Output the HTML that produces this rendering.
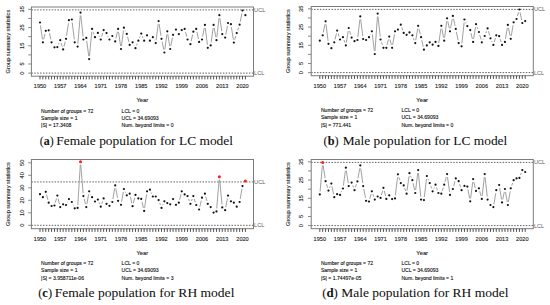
<!DOCTYPE html>
<html><head><meta charset="utf-8"><style>
html,body{margin:0;padding:0;background:#fff;width:550px;height:305px;overflow:hidden}
svg{display:block}
</style></head><body>
<svg width="550" height="305" viewBox="0 0 550 305" font-family='"Liberation Sans", sans-serif'>
<rect width="550" height="305" fill="#fff"/>
<line x1="31.4" y1="9.89" x2="253.5" y2="9.89" stroke="#606060" stroke-width="1.0" stroke-dasharray="1.5 1.4"/>
<line x1="31.4" y1="73.1" x2="253.5" y2="73.1" stroke="#606060" stroke-width="1.0" stroke-dasharray="1.5 1.4"/>
<path d="M40.43 25.47L42.46 39.33M43.62 39.39L45.05 33.71M49.38 33.22L50.87 39.38M58.52 44.33L59.09 42.97M61.15 43.06L62.24 46.54M63.93 46.51L65.25 41.69M66.5 35.84L68.47 23.16M72.2 22.48L74.34 39.32M77.86 43.61L80.25 15.59M80.82 15.58L83.07 36.52M86.69 40.87L88.78 56.13M89.47 56.11L91.79 31.89M93.06 31.73L93.98 34.37M99.06 35.65L99.55 36.75M101.64 36.63L102.76 32.97M107.77 35.83L108.2 36.77M113.74 38.64L113.8 38.76M115.89 38.48L117.43 31.82M118.54 31.87L120.58 46.03M121.41 46.03L123.49 30.67M125.17 30.42L125.52 31.18M127.55 36.8L128.92 42M133.9 44.99L134.15 45.51M136.55 45.4L137.28 43.5M139.49 37.92L140.12 36.38M142.39 36.38L143.02 37.92M145.56 38.06L145.62 37.94M148.46 37.94L148.52 38.06M154.15 39.89L154.4 40.41M156.11 40.13L158.22 24.07M159.1 24.06L161.02 35.84M162.13 41.74L163.78 49.56M164.8 49.53L166.89 34.27M167.78 34.26L169.7 46.04M170.78 46.06L172.48 37.74M185.44 31.79L186.75 36.61M191.11 41.28L192.65 34.62M196.87 31.83L198.46 38.97M202.59 36.56L204.32 27.84M205.28 27.88L207.42 44.82M211.11 42.43L213.16 27.87M214.14 27.85L215.92 37.25M216.82 37.22L219.02 18.18M219.82 18.17L221.81 31.13M225.74 34.66L227.46 25.94M231.4 27.16L233.37 39.64M234.7 39.73L235.85 35.97M237.7 30.26L238.64 27.54M240.22 21.76L241.91 13.44" stroke="#9c9c9c" stroke-width="0.95" fill="none"/>
<circle cx="40" cy="22.5" r="1.1" fill="#111"/>
<circle cx="42.89" cy="42.3" r="1.1" fill="#111"/>
<circle cx="45.79" cy="30.8" r="1.1" fill="#111"/>
<circle cx="48.68" cy="30.3" r="1.1" fill="#111"/>
<circle cx="51.57" cy="42.3" r="1.1" fill="#111"/>
<circle cx="54.47" cy="47.3" r="1.1" fill="#111"/>
<circle cx="57.36" cy="47.1" r="1.1" fill="#111"/>
<circle cx="60.25" cy="40.2" r="1.1" fill="#111"/>
<circle cx="63.14" cy="49.4" r="1.1" fill="#111"/>
<circle cx="66.04" cy="38.8" r="1.1" fill="#111"/>
<circle cx="68.93" cy="20.2" r="1.1" fill="#111"/>
<circle cx="71.82" cy="19.5" r="1.1" fill="#111"/>
<circle cx="74.72" cy="42.3" r="1.1" fill="#111"/>
<circle cx="77.61" cy="46.6" r="1.1" fill="#111"/>
<circle cx="80.5" cy="12.6" r="1.1" fill="#111"/>
<circle cx="83.39" cy="39.5" r="1.1" fill="#111"/>
<circle cx="86.29" cy="37.9" r="1.1" fill="#111"/>
<circle cx="89.18" cy="59.1" r="1.1" fill="#111"/>
<circle cx="92.07" cy="28.9" r="1.1" fill="#111"/>
<circle cx="94.97" cy="37.2" r="1.1" fill="#111"/>
<circle cx="97.86" cy="32.9" r="1.1" fill="#111"/>
<circle cx="100.75" cy="39.5" r="1.1" fill="#111"/>
<circle cx="103.65" cy="30.1" r="1.1" fill="#111"/>
<circle cx="106.54" cy="33.1" r="1.1" fill="#111"/>
<circle cx="109.43" cy="39.5" r="1.1" fill="#111"/>
<circle cx="112.32" cy="36" r="1.1" fill="#111"/>
<circle cx="115.22" cy="41.4" r="1.1" fill="#111"/>
<circle cx="118.11" cy="28.9" r="1.1" fill="#111"/>
<circle cx="121" cy="49" r="1.1" fill="#111"/>
<circle cx="123.9" cy="27.7" r="1.1" fill="#111"/>
<circle cx="126.79" cy="33.9" r="1.1" fill="#111"/>
<circle cx="129.68" cy="44.9" r="1.1" fill="#111"/>
<circle cx="132.58" cy="42.3" r="1.1" fill="#111"/>
<circle cx="135.47" cy="48.2" r="1.1" fill="#111"/>
<circle cx="138.36" cy="40.7" r="1.1" fill="#111"/>
<circle cx="141.25" cy="33.6" r="1.1" fill="#111"/>
<circle cx="144.15" cy="40.7" r="1.1" fill="#111"/>
<circle cx="147.04" cy="35.3" r="1.1" fill="#111"/>
<circle cx="149.93" cy="40.7" r="1.1" fill="#111"/>
<circle cx="152.83" cy="37.2" r="1.1" fill="#111"/>
<circle cx="155.72" cy="43.1" r="1.1" fill="#111"/>
<circle cx="158.61" cy="21.1" r="1.1" fill="#111"/>
<circle cx="161.51" cy="38.8" r="1.1" fill="#111"/>
<circle cx="164.4" cy="52.5" r="1.1" fill="#111"/>
<circle cx="167.29" cy="31.3" r="1.1" fill="#111"/>
<circle cx="170.19" cy="49" r="1.1" fill="#111"/>
<circle cx="173.08" cy="34.8" r="1.1" fill="#111"/>
<circle cx="175.97" cy="29.6" r="1.1" fill="#111"/>
<circle cx="178.86" cy="34.1" r="1.1" fill="#111"/>
<circle cx="181.76" cy="30.1" r="1.1" fill="#111"/>
<circle cx="184.65" cy="28.9" r="1.1" fill="#111"/>
<circle cx="187.54" cy="39.5" r="1.1" fill="#111"/>
<circle cx="190.44" cy="44.2" r="1.1" fill="#111"/>
<circle cx="193.33" cy="31.7" r="1.1" fill="#111"/>
<circle cx="196.22" cy="28.9" r="1.1" fill="#111"/>
<circle cx="199.11" cy="41.9" r="1.1" fill="#111"/>
<circle cx="202.01" cy="39.5" r="1.1" fill="#111"/>
<circle cx="204.9" cy="24.9" r="1.1" fill="#111"/>
<circle cx="207.79" cy="47.8" r="1.1" fill="#111"/>
<circle cx="210.69" cy="45.4" r="1.1" fill="#111"/>
<circle cx="213.58" cy="24.9" r="1.1" fill="#111"/>
<circle cx="216.47" cy="40.2" r="1.1" fill="#111"/>
<circle cx="219.37" cy="15.2" r="1.1" fill="#111"/>
<circle cx="222.26" cy="34.1" r="1.1" fill="#111"/>
<circle cx="225.15" cy="37.6" r="1.1" fill="#111"/>
<circle cx="228.04" cy="23" r="1.1" fill="#111"/>
<circle cx="230.94" cy="24.2" r="1.1" fill="#111"/>
<circle cx="233.83" cy="42.6" r="1.1" fill="#111"/>
<circle cx="236.72" cy="33.1" r="1.1" fill="#111"/>
<circle cx="239.62" cy="24.7" r="1.1" fill="#111"/>
<circle cx="242.51" cy="10.5" r="1.1" fill="#111"/>
<circle cx="245.4" cy="15.2" r="1.1" fill="#111"/>
<rect x="31.4" y="7" width="222.1" height="69.2" fill="none" stroke="#7c7c7c" stroke-width="1"/>
<line x1="28.2" y1="73.1" x2="31.4" y2="73.1" stroke="#7c7c7c" stroke-width="0.9"/>
<line x1="28.2" y1="63.99" x2="31.4" y2="63.99" stroke="#7c7c7c" stroke-width="0.9"/>
<line x1="28.2" y1="54.88" x2="31.4" y2="54.88" stroke="#7c7c7c" stroke-width="0.9"/>
<line x1="28.2" y1="45.77" x2="31.4" y2="45.77" stroke="#7c7c7c" stroke-width="0.9"/>
<line x1="28.2" y1="36.66" x2="31.4" y2="36.66" stroke="#7c7c7c" stroke-width="0.9"/>
<line x1="28.2" y1="27.55" x2="31.4" y2="27.55" stroke="#7c7c7c" stroke-width="0.9"/>
<line x1="28.2" y1="18.44" x2="31.4" y2="18.44" stroke="#7c7c7c" stroke-width="0.9"/>
<line x1="28.2" y1="9.33" x2="31.4" y2="9.33" stroke="#7c7c7c" stroke-width="0.9"/>
<text x="21.6" y="73.1" transform="rotate(-90 21.6 73.1)" text-anchor="middle" dominant-baseline="central" font-size="5.6" fill="#222" stroke="#222" stroke-width="0.1">0</text>
<text x="21.6" y="63.99" transform="rotate(-90 21.6 63.99)" text-anchor="middle" dominant-baseline="central" font-size="5.6" fill="#222" stroke="#222" stroke-width="0.1">5</text>
<text x="21.6" y="45.77" transform="rotate(-90 21.6 45.77)" text-anchor="middle" dominant-baseline="central" font-size="5.6" fill="#222" stroke="#222" stroke-width="0.1">15</text>
<text x="21.6" y="27.55" transform="rotate(-90 21.6 27.55)" text-anchor="middle" dominant-baseline="central" font-size="5.6" fill="#222" stroke="#222" stroke-width="0.1">25</text>
<text x="21.6" y="9.33" transform="rotate(-90 21.6 9.33)" text-anchor="middle" dominant-baseline="central" font-size="5.6" fill="#222" stroke="#222" stroke-width="0.1">35</text>
<text x="8.4" y="41.6" transform="rotate(-90 8.4 41.6)" text-anchor="middle" dominant-baseline="central" font-size="5.65" fill="#222" stroke="#222" stroke-width="0.1">Group summary statistics</text>
<path d="M40 76.2V79.4M42.89 76.2V79.4M45.79 76.2V79.4M48.68 76.2V79.4M51.57 76.2V79.4M54.47 76.2V79.4M57.36 76.2V79.4M60.25 76.2V79.4M63.14 76.2V79.4M66.04 76.2V79.4M68.93 76.2V79.4M71.82 76.2V79.4M74.72 76.2V79.4M77.61 76.2V79.4M80.5 76.2V79.4M83.39 76.2V79.4M86.29 76.2V79.4M89.18 76.2V79.4M92.07 76.2V79.4M94.97 76.2V79.4M97.86 76.2V79.4M100.75 76.2V79.4M103.65 76.2V79.4M106.54 76.2V79.4M109.43 76.2V79.4M112.32 76.2V79.4M115.22 76.2V79.4M118.11 76.2V79.4M121 76.2V79.4M123.9 76.2V79.4M126.79 76.2V79.4M129.68 76.2V79.4M132.58 76.2V79.4M135.47 76.2V79.4M138.36 76.2V79.4M141.25 76.2V79.4M144.15 76.2V79.4M147.04 76.2V79.4M149.93 76.2V79.4M152.83 76.2V79.4M155.72 76.2V79.4M158.61 76.2V79.4M161.51 76.2V79.4M164.4 76.2V79.4M167.29 76.2V79.4M170.19 76.2V79.4M173.08 76.2V79.4M175.97 76.2V79.4M178.86 76.2V79.4M181.76 76.2V79.4M184.65 76.2V79.4M187.54 76.2V79.4M190.44 76.2V79.4M193.33 76.2V79.4M196.22 76.2V79.4M199.11 76.2V79.4M202.01 76.2V79.4M204.9 76.2V79.4M207.79 76.2V79.4M210.69 76.2V79.4M213.58 76.2V79.4M216.47 76.2V79.4M219.37 76.2V79.4M222.26 76.2V79.4M225.15 76.2V79.4M228.04 76.2V79.4M230.94 76.2V79.4M233.83 76.2V79.4M236.72 76.2V79.4M239.62 76.2V79.4M242.51 76.2V79.4M245.4 76.2V79.4" stroke="#333" stroke-width="0.85"/>
<text x="40" y="86" text-anchor="middle" dominant-baseline="central" font-size="6.0" textLength="12.4" lengthAdjust="spacingAndGlyphs" fill="#222" stroke="#222" stroke-width="0.12">1950</text>
<text x="60.25" y="86" text-anchor="middle" dominant-baseline="central" font-size="6.0" textLength="12.4" lengthAdjust="spacingAndGlyphs" fill="#222" stroke="#222" stroke-width="0.12">1957</text>
<text x="80.5" y="86" text-anchor="middle" dominant-baseline="central" font-size="6.0" textLength="12.4" lengthAdjust="spacingAndGlyphs" fill="#222" stroke="#222" stroke-width="0.12">1964</text>
<text x="100.75" y="86" text-anchor="middle" dominant-baseline="central" font-size="6.0" textLength="12.4" lengthAdjust="spacingAndGlyphs" fill="#222" stroke="#222" stroke-width="0.12">1971</text>
<text x="121" y="86" text-anchor="middle" dominant-baseline="central" font-size="6.0" textLength="12.4" lengthAdjust="spacingAndGlyphs" fill="#222" stroke="#222" stroke-width="0.12">1978</text>
<text x="141.25" y="86" text-anchor="middle" dominant-baseline="central" font-size="6.0" textLength="12.4" lengthAdjust="spacingAndGlyphs" fill="#222" stroke="#222" stroke-width="0.12">1985</text>
<text x="161.51" y="86" text-anchor="middle" dominant-baseline="central" font-size="6.0" textLength="12.4" lengthAdjust="spacingAndGlyphs" fill="#222" stroke="#222" stroke-width="0.12">1992</text>
<text x="181.76" y="86" text-anchor="middle" dominant-baseline="central" font-size="6.0" textLength="12.4" lengthAdjust="spacingAndGlyphs" fill="#222" stroke="#222" stroke-width="0.12">1999</text>
<text x="202.01" y="86" text-anchor="middle" dominant-baseline="central" font-size="6.0" textLength="12.4" lengthAdjust="spacingAndGlyphs" fill="#222" stroke="#222" stroke-width="0.12">2006</text>
<text x="222.26" y="86" text-anchor="middle" dominant-baseline="central" font-size="6.0" textLength="12.4" lengthAdjust="spacingAndGlyphs" fill="#222" stroke="#222" stroke-width="0.12">2013</text>
<text x="242.51" y="86" text-anchor="middle" dominant-baseline="central" font-size="6.0" textLength="12.4" lengthAdjust="spacingAndGlyphs" fill="#222" stroke="#222" stroke-width="0.12">2020</text>
<text x="142.4" y="100.3" text-anchor="middle" dominant-baseline="central" font-size="5.8" fill="#222" stroke="#222" stroke-width="0.12">Year</text>
<text x="254.1" y="9.89" dominant-baseline="central" font-size="5.6" fill="#5a5a5a">UCL</text>
<text x="254.1" y="73.1" dominant-baseline="central" font-size="5.6" fill="#5a5a5a">LCL</text>
<text x="41.1" y="110.9" dominant-baseline="central" font-size="5.1" fill="#111" stroke="#111" stroke-width="0.12">Number of groups = 72</text>
<text x="121.6" y="110.9" dominant-baseline="central" font-size="5.1" fill="#111" stroke="#111" stroke-width="0.12">LCL = 0</text>
<text x="41.1" y="117.95" dominant-baseline="central" font-size="5.1" fill="#111" stroke="#111" stroke-width="0.12">Sample size = 1</text>
<text x="121.6" y="117.95" dominant-baseline="central" font-size="5.1" fill="#111" stroke="#111" stroke-width="0.12">UCL = 34.69093</text>
<text x="41.1" y="125" dominant-baseline="central" font-size="5.1" fill="#111" stroke="#111" stroke-width="0.12">|S| = 17.3408</text>
<text x="121.6" y="125" dominant-baseline="central" font-size="5.1" fill="#111" stroke="#111" stroke-width="0.12">Num. beyond limits = 0</text>
<text x="39.7" y="144.9" textLength="13.9" lengthAdjust="spacingAndGlyphs" font-family='"Liberation Serif", serif' font-size="13.5" fill="#111" stroke="#111" stroke-width="0.06">(<tspan font-weight="bold">a</tspan>)</text>
<text x="56.3" y="144.9" textLength="176.7" lengthAdjust="spacingAndGlyphs" font-family='"Liberation Serif", serif' font-size="13.5" fill="#111" stroke="#111" stroke-width="0.06">Female population for LC model</text>
<line x1="311.2" y1="9.39" x2="533.3" y2="9.39" stroke="#606060" stroke-width="1.0" stroke-dasharray="1.5 1.4"/>
<line x1="311.2" y1="72.6" x2="533.3" y2="72.6" stroke="#606060" stroke-width="1.0" stroke-dasharray="1.5 1.4"/>
<path d="M321.22 38.06L321.28 37.94M323.3 32.36L324.98 24.24M325.97 24.28L328.1 40.82M332.69 45.51L332.94 44.99M334.99 39.39L336.44 33.51M338.09 33.45L339.12 36.65M343.94 40.03L344.84 42.57M346.33 42.44L348.24 30.96M349.6 30.87L350.76 34.73M357.77 37.02L359.94 19.38M360.68 19.38L362.81 36.02M370.3 34.51L370.55 33.99M372.25 34.28L374.39 51.12M374.98 51.11L377.45 16.59M377.99 16.58L380.22 36.52M381.54 42.33L382.46 44.97M387.09 44.9L388.48 39.5M389.98 39.5L391.37 44.9M392.64 44.85L394.5 34.25M401.8 27.53L402.7 30.07M413.42 38.11L414.23 40.29M415.76 40.14L417.67 28.76M418.9 28.71L420.32 34.29M421.73 40.12L423.27 46.78M438.84 42.93L440.88 28.77M441.88 28.75L443.63 37.75M444.58 37.72L446.71 21.28M447.74 21.23L449.33 28.37M450.54 28.35L452.32 18.85M453.53 18.83L455.12 25.97M456.37 31.84L458.07 40.16M461.88 43.32L464.13 22.48M465.65 22.25L466.14 23.35M470.95 33.01L472.41 38.99M473.61 38.94L475.54 27.16M477.07 27.01L477.87 29.19M479.73 34.89L481 39.41M483.06 39.57L483.45 38.73M485.77 33.2L486.53 31.2M488.44 31.28L489.65 35.42M491.69 41.05L492.18 42.15M494.25 42.03L495.41 38.17M500.11 39.05L501.11 42.05M505.46 38.94L507.34 27.86M508.46 27.84L510.13 35.86M511.26 35.85L513.11 25.25M517.4 16.13L518.54 12.37M520.05 12.43L521.68 20.07" stroke="#9c9c9c" stroke-width="0.95" fill="none"/>
<circle cx="319.8" cy="40.7" r="1.1" fill="#111"/>
<circle cx="322.69" cy="35.3" r="1.1" fill="#111"/>
<circle cx="325.59" cy="21.3" r="1.1" fill="#111"/>
<circle cx="328.48" cy="43.8" r="1.1" fill="#111"/>
<circle cx="331.37" cy="48.2" r="1.1" fill="#111"/>
<circle cx="334.26" cy="42.3" r="1.1" fill="#111"/>
<circle cx="337.16" cy="30.6" r="1.1" fill="#111"/>
<circle cx="340.05" cy="39.5" r="1.1" fill="#111"/>
<circle cx="342.94" cy="37.2" r="1.1" fill="#111"/>
<circle cx="345.84" cy="45.4" r="1.1" fill="#111"/>
<circle cx="348.73" cy="28" r="1.1" fill="#111"/>
<circle cx="351.62" cy="37.6" r="1.1" fill="#111"/>
<circle cx="354.52" cy="41.2" r="1.1" fill="#111"/>
<circle cx="357.41" cy="40" r="1.1" fill="#111"/>
<circle cx="360.3" cy="16.4" r="1.1" fill="#111"/>
<circle cx="363.19" cy="39" r="1.1" fill="#111"/>
<circle cx="366.09" cy="40" r="1.1" fill="#111"/>
<circle cx="368.98" cy="37.2" r="1.1" fill="#111"/>
<circle cx="371.87" cy="31.3" r="1.1" fill="#111"/>
<circle cx="374.77" cy="54.1" r="1.1" fill="#111"/>
<circle cx="377.66" cy="13.6" r="1.1" fill="#111"/>
<circle cx="380.55" cy="39.5" r="1.1" fill="#111"/>
<circle cx="383.45" cy="47.8" r="1.1" fill="#111"/>
<circle cx="386.34" cy="47.8" r="1.1" fill="#111"/>
<circle cx="389.23" cy="36.6" r="1.1" fill="#111"/>
<circle cx="392.12" cy="47.8" r="1.1" fill="#111"/>
<circle cx="395.02" cy="31.3" r="1.1" fill="#111"/>
<circle cx="397.91" cy="29.6" r="1.1" fill="#111"/>
<circle cx="400.8" cy="24.7" r="1.1" fill="#111"/>
<circle cx="403.7" cy="32.9" r="1.1" fill="#111"/>
<circle cx="406.59" cy="34.8" r="1.1" fill="#111"/>
<circle cx="409.48" cy="32.4" r="1.1" fill="#111"/>
<circle cx="412.38" cy="35.3" r="1.1" fill="#111"/>
<circle cx="415.27" cy="43.1" r="1.1" fill="#111"/>
<circle cx="418.16" cy="25.8" r="1.1" fill="#111"/>
<circle cx="421.06" cy="37.2" r="1.1" fill="#111"/>
<circle cx="423.95" cy="49.7" r="1.1" fill="#111"/>
<circle cx="426.84" cy="45.4" r="1.1" fill="#111"/>
<circle cx="429.73" cy="42.3" r="1.1" fill="#111"/>
<circle cx="432.63" cy="44.7" r="1.1" fill="#111"/>
<circle cx="435.52" cy="41.9" r="1.1" fill="#111"/>
<circle cx="438.41" cy="45.9" r="1.1" fill="#111"/>
<circle cx="441.31" cy="25.8" r="1.1" fill="#111"/>
<circle cx="444.2" cy="40.7" r="1.1" fill="#111"/>
<circle cx="447.09" cy="18.3" r="1.1" fill="#111"/>
<circle cx="449.99" cy="31.3" r="1.1" fill="#111"/>
<circle cx="452.88" cy="15.9" r="1.1" fill="#111"/>
<circle cx="455.77" cy="28.9" r="1.1" fill="#111"/>
<circle cx="458.66" cy="43.1" r="1.1" fill="#111"/>
<circle cx="461.56" cy="46.3" r="1.1" fill="#111"/>
<circle cx="464.45" cy="19.5" r="1.1" fill="#111"/>
<circle cx="467.34" cy="26.1" r="1.1" fill="#111"/>
<circle cx="470.24" cy="30.1" r="1.1" fill="#111"/>
<circle cx="473.13" cy="41.9" r="1.1" fill="#111"/>
<circle cx="476.02" cy="24.2" r="1.1" fill="#111"/>
<circle cx="478.91" cy="32" r="1.1" fill="#111"/>
<circle cx="481.81" cy="42.3" r="1.1" fill="#111"/>
<circle cx="484.7" cy="36" r="1.1" fill="#111"/>
<circle cx="487.59" cy="28.4" r="1.1" fill="#111"/>
<circle cx="490.49" cy="38.3" r="1.1" fill="#111"/>
<circle cx="493.38" cy="44.9" r="1.1" fill="#111"/>
<circle cx="496.27" cy="35.3" r="1.1" fill="#111"/>
<circle cx="499.17" cy="36.2" r="1.1" fill="#111"/>
<circle cx="502.06" cy="44.9" r="1.1" fill="#111"/>
<circle cx="504.95" cy="41.9" r="1.1" fill="#111"/>
<circle cx="507.85" cy="24.9" r="1.1" fill="#111"/>
<circle cx="510.74" cy="38.8" r="1.1" fill="#111"/>
<circle cx="513.63" cy="22.3" r="1.1" fill="#111"/>
<circle cx="516.52" cy="19" r="1.1" fill="#111"/>
<circle cx="519.42" cy="9.5" r="1.1" fill="#111"/>
<circle cx="522.31" cy="23" r="1.1" fill="#111"/>
<circle cx="525.2" cy="21.1" r="1.1" fill="#111"/>
<rect x="311.2" y="6.5" width="222.1" height="69.2" fill="none" stroke="#7c7c7c" stroke-width="1"/>
<line x1="308" y1="72.6" x2="311.2" y2="72.6" stroke="#7c7c7c" stroke-width="0.9"/>
<line x1="308" y1="63.49" x2="311.2" y2="63.49" stroke="#7c7c7c" stroke-width="0.9"/>
<line x1="308" y1="54.38" x2="311.2" y2="54.38" stroke="#7c7c7c" stroke-width="0.9"/>
<line x1="308" y1="45.27" x2="311.2" y2="45.27" stroke="#7c7c7c" stroke-width="0.9"/>
<line x1="308" y1="36.16" x2="311.2" y2="36.16" stroke="#7c7c7c" stroke-width="0.9"/>
<line x1="308" y1="27.05" x2="311.2" y2="27.05" stroke="#7c7c7c" stroke-width="0.9"/>
<line x1="308" y1="17.94" x2="311.2" y2="17.94" stroke="#7c7c7c" stroke-width="0.9"/>
<line x1="308" y1="8.83" x2="311.2" y2="8.83" stroke="#7c7c7c" stroke-width="0.9"/>
<text x="301.4" y="72.6" transform="rotate(-90 301.4 72.6)" text-anchor="middle" dominant-baseline="central" font-size="5.6" fill="#222" stroke="#222" stroke-width="0.1">0</text>
<text x="301.4" y="63.49" transform="rotate(-90 301.4 63.49)" text-anchor="middle" dominant-baseline="central" font-size="5.6" fill="#222" stroke="#222" stroke-width="0.1">5</text>
<text x="301.4" y="45.27" transform="rotate(-90 301.4 45.27)" text-anchor="middle" dominant-baseline="central" font-size="5.6" fill="#222" stroke="#222" stroke-width="0.1">15</text>
<text x="301.4" y="27.05" transform="rotate(-90 301.4 27.05)" text-anchor="middle" dominant-baseline="central" font-size="5.6" fill="#222" stroke="#222" stroke-width="0.1">25</text>
<text x="301.4" y="8.83" transform="rotate(-90 301.4 8.83)" text-anchor="middle" dominant-baseline="central" font-size="5.6" fill="#222" stroke="#222" stroke-width="0.1">35</text>
<text x="288.2" y="41.1" transform="rotate(-90 288.2 41.1)" text-anchor="middle" dominant-baseline="central" font-size="5.65" fill="#222" stroke="#222" stroke-width="0.1">Group summary statistics</text>
<path d="M319.8 75.7V78.9M322.69 75.7V78.9M325.59 75.7V78.9M328.48 75.7V78.9M331.37 75.7V78.9M334.26 75.7V78.9M337.16 75.7V78.9M340.05 75.7V78.9M342.94 75.7V78.9M345.84 75.7V78.9M348.73 75.7V78.9M351.62 75.7V78.9M354.52 75.7V78.9M357.41 75.7V78.9M360.3 75.7V78.9M363.19 75.7V78.9M366.09 75.7V78.9M368.98 75.7V78.9M371.87 75.7V78.9M374.77 75.7V78.9M377.66 75.7V78.9M380.55 75.7V78.9M383.45 75.7V78.9M386.34 75.7V78.9M389.23 75.7V78.9M392.12 75.7V78.9M395.02 75.7V78.9M397.91 75.7V78.9M400.8 75.7V78.9M403.7 75.7V78.9M406.59 75.7V78.9M409.48 75.7V78.9M412.38 75.7V78.9M415.27 75.7V78.9M418.16 75.7V78.9M421.06 75.7V78.9M423.95 75.7V78.9M426.84 75.7V78.9M429.73 75.7V78.9M432.63 75.7V78.9M435.52 75.7V78.9M438.41 75.7V78.9M441.31 75.7V78.9M444.2 75.7V78.9M447.09 75.7V78.9M449.99 75.7V78.9M452.88 75.7V78.9M455.77 75.7V78.9M458.66 75.7V78.9M461.56 75.7V78.9M464.45 75.7V78.9M467.34 75.7V78.9M470.24 75.7V78.9M473.13 75.7V78.9M476.02 75.7V78.9M478.91 75.7V78.9M481.81 75.7V78.9M484.7 75.7V78.9M487.59 75.7V78.9M490.49 75.7V78.9M493.38 75.7V78.9M496.27 75.7V78.9M499.17 75.7V78.9M502.06 75.7V78.9M504.95 75.7V78.9M507.85 75.7V78.9M510.74 75.7V78.9M513.63 75.7V78.9M516.52 75.7V78.9M519.42 75.7V78.9M522.31 75.7V78.9M525.2 75.7V78.9" stroke="#333" stroke-width="0.85"/>
<text x="319.8" y="85.5" text-anchor="middle" dominant-baseline="central" font-size="6.0" textLength="12.4" lengthAdjust="spacingAndGlyphs" fill="#222" stroke="#222" stroke-width="0.12">1950</text>
<text x="340.05" y="85.5" text-anchor="middle" dominant-baseline="central" font-size="6.0" textLength="12.4" lengthAdjust="spacingAndGlyphs" fill="#222" stroke="#222" stroke-width="0.12">1957</text>
<text x="360.3" y="85.5" text-anchor="middle" dominant-baseline="central" font-size="6.0" textLength="12.4" lengthAdjust="spacingAndGlyphs" fill="#222" stroke="#222" stroke-width="0.12">1964</text>
<text x="380.55" y="85.5" text-anchor="middle" dominant-baseline="central" font-size="6.0" textLength="12.4" lengthAdjust="spacingAndGlyphs" fill="#222" stroke="#222" stroke-width="0.12">1971</text>
<text x="400.8" y="85.5" text-anchor="middle" dominant-baseline="central" font-size="6.0" textLength="12.4" lengthAdjust="spacingAndGlyphs" fill="#222" stroke="#222" stroke-width="0.12">1978</text>
<text x="421.06" y="85.5" text-anchor="middle" dominant-baseline="central" font-size="6.0" textLength="12.4" lengthAdjust="spacingAndGlyphs" fill="#222" stroke="#222" stroke-width="0.12">1985</text>
<text x="441.31" y="85.5" text-anchor="middle" dominant-baseline="central" font-size="6.0" textLength="12.4" lengthAdjust="spacingAndGlyphs" fill="#222" stroke="#222" stroke-width="0.12">1992</text>
<text x="461.56" y="85.5" text-anchor="middle" dominant-baseline="central" font-size="6.0" textLength="12.4" lengthAdjust="spacingAndGlyphs" fill="#222" stroke="#222" stroke-width="0.12">1999</text>
<text x="481.81" y="85.5" text-anchor="middle" dominant-baseline="central" font-size="6.0" textLength="12.4" lengthAdjust="spacingAndGlyphs" fill="#222" stroke="#222" stroke-width="0.12">2006</text>
<text x="502.06" y="85.5" text-anchor="middle" dominant-baseline="central" font-size="6.0" textLength="12.4" lengthAdjust="spacingAndGlyphs" fill="#222" stroke="#222" stroke-width="0.12">2013</text>
<text x="522.31" y="85.5" text-anchor="middle" dominant-baseline="central" font-size="6.0" textLength="12.4" lengthAdjust="spacingAndGlyphs" fill="#222" stroke="#222" stroke-width="0.12">2020</text>
<text x="422.2" y="99.8" text-anchor="middle" dominant-baseline="central" font-size="5.8" fill="#222" stroke="#222" stroke-width="0.12">Year</text>
<text x="533.9" y="9.39" dominant-baseline="central" font-size="5.6" fill="#5a5a5a">UCL</text>
<text x="533.9" y="72.6" dominant-baseline="central" font-size="5.6" fill="#5a5a5a">LCL</text>
<text x="320.9" y="110.4" dominant-baseline="central" font-size="5.1" fill="#111" stroke="#111" stroke-width="0.12">Number of groups = 72</text>
<text x="401.4" y="110.4" dominant-baseline="central" font-size="5.1" fill="#111" stroke="#111" stroke-width="0.12">LCL = 0</text>
<text x="320.9" y="117.45" dominant-baseline="central" font-size="5.1" fill="#111" stroke="#111" stroke-width="0.12">Sample size = 1</text>
<text x="401.4" y="117.45" dominant-baseline="central" font-size="5.1" fill="#111" stroke="#111" stroke-width="0.12">UCL = 34.69093</text>
<text x="320.9" y="124.5" dominant-baseline="central" font-size="5.1" fill="#111" stroke="#111" stroke-width="0.12">|S| = 771.441</text>
<text x="401.4" y="124.5" dominant-baseline="central" font-size="5.1" fill="#111" stroke="#111" stroke-width="0.12">Num. beyond limits = 0</text>
<text x="323.6" y="144.9" textLength="15.1" lengthAdjust="spacingAndGlyphs" font-family='"Liberation Serif", serif' font-size="13.5" fill="#111" stroke="#111" stroke-width="0.06">(<tspan font-weight="bold">b</tspan>)</text>
<text x="342.7" y="144.9" textLength="164.6" lengthAdjust="spacingAndGlyphs" font-family='"Liberation Serif", serif' font-size="13.5" fill="#111" stroke="#111" stroke-width="0.06">Male population for LC model</text>
<line x1="31.4" y1="181.94" x2="253.5" y2="181.94" stroke="#606060" stroke-width="1.0" stroke-dasharray="1.5 1.4"/>
<line x1="31.4" y1="225.3" x2="253.5" y2="225.3" stroke="#606060" stroke-width="1.0" stroke-dasharray="1.5 1.4"/>
<path d="M44.31 194.56L44.37 194.44M46.56 194.7L47.91 199.8M55.31 202.62L56.52 198.48M58.09 198.51L59.52 204.19M67.36 202.31L67.61 201.79M73.07 204.73L73.46 205.57M77.8 204.91L80.31 164.79M80.75 164.79L83.14 193.11M84.16 199L85.52 204.2M86.83 204.15L88.64 194.25M90.5 193.99L90.75 194.51M98.99 202.38L99.62 203.92M101.74 203.87L102.66 201.23M105.06 201.04L105.12 201.16M112.84 199.04L114.7 188.36M115.77 188.35L117.56 197.85M121.54 201.85L123.36 191.95M125.15 191.73L125.54 192.57M130.36 196.62L131.9 203.28M133.32 203.29L134.72 197.81M141.96 201.82L143.44 207.98M144.59 207.93L146.6 194.27M151.11 192.46L151.65 193.74M159.66 202.91L160.46 205.09M162.71 205.15L163.19 204.05M174.44 201.78L174.61 202.12M179.6 199.79L181.02 194.21M188.6 198.91L189.38 200.99M191.49 200.99L192.27 198.91M194.26 198.95L195.29 202.15M199.83 206.59L201.29 200.61M205.73 196.58L206.97 200.92M212.08 209.76L212.18 209.94M216.72 208.41L219.12 179.69M219.65 179.69L221.98 204.41M225.74 207.26L227.46 198.54M229.4 198.28L229.58 198.62M240.15 199.05L241.97 189.05" stroke="#9c9c9c" stroke-width="0.95" fill="none"/>
<circle cx="40" cy="194.2" r="1.1" fill="#111"/>
<circle cx="42.89" cy="197.2" r="1.1" fill="#111"/>
<circle cx="45.79" cy="191.8" r="1.1" fill="#111"/>
<circle cx="48.68" cy="202.7" r="1.1" fill="#111"/>
<circle cx="51.57" cy="206" r="1.1" fill="#111"/>
<circle cx="54.47" cy="205.5" r="1.1" fill="#111"/>
<circle cx="57.36" cy="195.6" r="1.1" fill="#111"/>
<circle cx="60.25" cy="207.1" r="1.1" fill="#111"/>
<circle cx="63.14" cy="204.3" r="1.1" fill="#111"/>
<circle cx="66.04" cy="205" r="1.1" fill="#111"/>
<circle cx="68.93" cy="199.1" r="1.1" fill="#111"/>
<circle cx="71.82" cy="202" r="1.1" fill="#111"/>
<circle cx="74.72" cy="208.3" r="1.1" fill="#111"/>
<circle cx="77.61" cy="207.9" r="1.1" fill="#111"/>
<circle cx="80.5" cy="161.8" r="1.5" fill="#ff1a1a"/>
<circle cx="83.39" cy="196.1" r="1.1" fill="#111"/>
<circle cx="86.29" cy="207.1" r="1.1" fill="#111"/>
<circle cx="89.18" cy="191.3" r="1.1" fill="#111"/>
<circle cx="92.07" cy="197.2" r="1.1" fill="#111"/>
<circle cx="94.97" cy="201.5" r="1.1" fill="#111"/>
<circle cx="97.86" cy="199.6" r="1.1" fill="#111"/>
<circle cx="100.75" cy="206.7" r="1.1" fill="#111"/>
<circle cx="103.65" cy="198.4" r="1.1" fill="#111"/>
<circle cx="106.54" cy="203.8" r="1.1" fill="#111"/>
<circle cx="109.43" cy="205.8" r="1.1" fill="#111"/>
<circle cx="112.32" cy="202" r="1.1" fill="#111"/>
<circle cx="115.22" cy="185.4" r="1.1" fill="#111"/>
<circle cx="118.11" cy="200.8" r="1.1" fill="#111"/>
<circle cx="121" cy="204.8" r="1.1" fill="#111"/>
<circle cx="123.9" cy="189" r="1.1" fill="#111"/>
<circle cx="126.79" cy="195.3" r="1.1" fill="#111"/>
<circle cx="129.68" cy="193.7" r="1.1" fill="#111"/>
<circle cx="132.58" cy="206.2" r="1.1" fill="#111"/>
<circle cx="135.47" cy="194.9" r="1.1" fill="#111"/>
<circle cx="138.36" cy="198.4" r="1.1" fill="#111"/>
<circle cx="141.25" cy="198.9" r="1.1" fill="#111"/>
<circle cx="144.15" cy="210.9" r="1.1" fill="#111"/>
<circle cx="147.04" cy="191.3" r="1.1" fill="#111"/>
<circle cx="149.93" cy="189.7" r="1.1" fill="#111"/>
<circle cx="152.83" cy="196.5" r="1.1" fill="#111"/>
<circle cx="155.72" cy="196.5" r="1.1" fill="#111"/>
<circle cx="158.61" cy="200.1" r="1.1" fill="#111"/>
<circle cx="161.51" cy="207.9" r="1.1" fill="#111"/>
<circle cx="164.4" cy="201.3" r="1.1" fill="#111"/>
<circle cx="167.29" cy="203.1" r="1.1" fill="#111"/>
<circle cx="170.19" cy="204.3" r="1.1" fill="#111"/>
<circle cx="173.08" cy="199.1" r="1.1" fill="#111"/>
<circle cx="175.97" cy="204.8" r="1.1" fill="#111"/>
<circle cx="178.86" cy="202.7" r="1.1" fill="#111"/>
<circle cx="181.76" cy="191.3" r="1.1" fill="#111"/>
<circle cx="184.65" cy="194.4" r="1.1" fill="#111"/>
<circle cx="187.54" cy="196.1" r="1.1" fill="#111"/>
<circle cx="190.44" cy="203.8" r="1.1" fill="#111"/>
<circle cx="193.33" cy="196.1" r="1.1" fill="#111"/>
<circle cx="196.22" cy="205" r="1.1" fill="#111"/>
<circle cx="199.11" cy="209.5" r="1.1" fill="#111"/>
<circle cx="202.01" cy="197.7" r="1.1" fill="#111"/>
<circle cx="204.9" cy="193.7" r="1.1" fill="#111"/>
<circle cx="207.79" cy="203.8" r="1.1" fill="#111"/>
<circle cx="210.69" cy="207.1" r="1.1" fill="#111"/>
<circle cx="213.58" cy="212.6" r="1.1" fill="#111"/>
<circle cx="216.47" cy="211.4" r="1.1" fill="#111"/>
<circle cx="219.37" cy="176.7" r="1.5" fill="#ff1a1a"/>
<circle cx="222.26" cy="207.4" r="1.1" fill="#111"/>
<circle cx="225.15" cy="210.2" r="1.1" fill="#111"/>
<circle cx="228.04" cy="195.6" r="1.1" fill="#111"/>
<circle cx="230.94" cy="201.3" r="1.1" fill="#111"/>
<circle cx="233.83" cy="202.7" r="1.1" fill="#111"/>
<circle cx="236.72" cy="206.7" r="1.1" fill="#111"/>
<circle cx="239.62" cy="202" r="1.1" fill="#111"/>
<circle cx="242.51" cy="186.1" r="1.1" fill="#111"/>
<circle cx="245.4" cy="181" r="1.5" fill="#ff1a1a"/>
<rect x="31.4" y="159.5" width="222.1" height="69.2" fill="none" stroke="#7c7c7c" stroke-width="1"/>
<line x1="28.2" y1="225.3" x2="31.4" y2="225.3" stroke="#7c7c7c" stroke-width="0.9"/>
<line x1="28.2" y1="212.8" x2="31.4" y2="212.8" stroke="#7c7c7c" stroke-width="0.9"/>
<line x1="28.2" y1="200.3" x2="31.4" y2="200.3" stroke="#7c7c7c" stroke-width="0.9"/>
<line x1="28.2" y1="187.8" x2="31.4" y2="187.8" stroke="#7c7c7c" stroke-width="0.9"/>
<line x1="28.2" y1="175.3" x2="31.4" y2="175.3" stroke="#7c7c7c" stroke-width="0.9"/>
<line x1="28.2" y1="162.8" x2="31.4" y2="162.8" stroke="#7c7c7c" stroke-width="0.9"/>
<text x="21.6" y="225.3" transform="rotate(-90 21.6 225.3)" text-anchor="middle" dominant-baseline="central" font-size="5.6" fill="#222" stroke="#222" stroke-width="0.1">0</text>
<text x="21.6" y="212.8" transform="rotate(-90 21.6 212.8)" text-anchor="middle" dominant-baseline="central" font-size="5.6" fill="#222" stroke="#222" stroke-width="0.1">10</text>
<text x="21.6" y="200.3" transform="rotate(-90 21.6 200.3)" text-anchor="middle" dominant-baseline="central" font-size="5.6" fill="#222" stroke="#222" stroke-width="0.1">20</text>
<text x="21.6" y="187.8" transform="rotate(-90 21.6 187.8)" text-anchor="middle" dominant-baseline="central" font-size="5.6" fill="#222" stroke="#222" stroke-width="0.1">30</text>
<text x="21.6" y="175.3" transform="rotate(-90 21.6 175.3)" text-anchor="middle" dominant-baseline="central" font-size="5.6" fill="#222" stroke="#222" stroke-width="0.1">40</text>
<text x="21.6" y="162.8" transform="rotate(-90 21.6 162.8)" text-anchor="middle" dominant-baseline="central" font-size="5.6" fill="#222" stroke="#222" stroke-width="0.1">50</text>
<text x="8.4" y="194.1" transform="rotate(-90 8.4 194.1)" text-anchor="middle" dominant-baseline="central" font-size="5.65" fill="#222" stroke="#222" stroke-width="0.1">Group summary statistics</text>
<path d="M40 228.7V231.9M42.89 228.7V231.9M45.79 228.7V231.9M48.68 228.7V231.9M51.57 228.7V231.9M54.47 228.7V231.9M57.36 228.7V231.9M60.25 228.7V231.9M63.14 228.7V231.9M66.04 228.7V231.9M68.93 228.7V231.9M71.82 228.7V231.9M74.72 228.7V231.9M77.61 228.7V231.9M80.5 228.7V231.9M83.39 228.7V231.9M86.29 228.7V231.9M89.18 228.7V231.9M92.07 228.7V231.9M94.97 228.7V231.9M97.86 228.7V231.9M100.75 228.7V231.9M103.65 228.7V231.9M106.54 228.7V231.9M109.43 228.7V231.9M112.32 228.7V231.9M115.22 228.7V231.9M118.11 228.7V231.9M121 228.7V231.9M123.9 228.7V231.9M126.79 228.7V231.9M129.68 228.7V231.9M132.58 228.7V231.9M135.47 228.7V231.9M138.36 228.7V231.9M141.25 228.7V231.9M144.15 228.7V231.9M147.04 228.7V231.9M149.93 228.7V231.9M152.83 228.7V231.9M155.72 228.7V231.9M158.61 228.7V231.9M161.51 228.7V231.9M164.4 228.7V231.9M167.29 228.7V231.9M170.19 228.7V231.9M173.08 228.7V231.9M175.97 228.7V231.9M178.86 228.7V231.9M181.76 228.7V231.9M184.65 228.7V231.9M187.54 228.7V231.9M190.44 228.7V231.9M193.33 228.7V231.9M196.22 228.7V231.9M199.11 228.7V231.9M202.01 228.7V231.9M204.9 228.7V231.9M207.79 228.7V231.9M210.69 228.7V231.9M213.58 228.7V231.9M216.47 228.7V231.9M219.37 228.7V231.9M222.26 228.7V231.9M225.15 228.7V231.9M228.04 228.7V231.9M230.94 228.7V231.9M233.83 228.7V231.9M236.72 228.7V231.9M239.62 228.7V231.9M242.51 228.7V231.9M245.4 228.7V231.9" stroke="#333" stroke-width="0.85"/>
<text x="40" y="238.5" text-anchor="middle" dominant-baseline="central" font-size="6.0" textLength="12.4" lengthAdjust="spacingAndGlyphs" fill="#222" stroke="#222" stroke-width="0.12">1950</text>
<text x="60.25" y="238.5" text-anchor="middle" dominant-baseline="central" font-size="6.0" textLength="12.4" lengthAdjust="spacingAndGlyphs" fill="#222" stroke="#222" stroke-width="0.12">1957</text>
<text x="80.5" y="238.5" text-anchor="middle" dominant-baseline="central" font-size="6.0" textLength="12.4" lengthAdjust="spacingAndGlyphs" fill="#222" stroke="#222" stroke-width="0.12">1964</text>
<text x="100.75" y="238.5" text-anchor="middle" dominant-baseline="central" font-size="6.0" textLength="12.4" lengthAdjust="spacingAndGlyphs" fill="#222" stroke="#222" stroke-width="0.12">1971</text>
<text x="121" y="238.5" text-anchor="middle" dominant-baseline="central" font-size="6.0" textLength="12.4" lengthAdjust="spacingAndGlyphs" fill="#222" stroke="#222" stroke-width="0.12">1978</text>
<text x="141.25" y="238.5" text-anchor="middle" dominant-baseline="central" font-size="6.0" textLength="12.4" lengthAdjust="spacingAndGlyphs" fill="#222" stroke="#222" stroke-width="0.12">1985</text>
<text x="161.51" y="238.5" text-anchor="middle" dominant-baseline="central" font-size="6.0" textLength="12.4" lengthAdjust="spacingAndGlyphs" fill="#222" stroke="#222" stroke-width="0.12">1992</text>
<text x="181.76" y="238.5" text-anchor="middle" dominant-baseline="central" font-size="6.0" textLength="12.4" lengthAdjust="spacingAndGlyphs" fill="#222" stroke="#222" stroke-width="0.12">1999</text>
<text x="202.01" y="238.5" text-anchor="middle" dominant-baseline="central" font-size="6.0" textLength="12.4" lengthAdjust="spacingAndGlyphs" fill="#222" stroke="#222" stroke-width="0.12">2006</text>
<text x="222.26" y="238.5" text-anchor="middle" dominant-baseline="central" font-size="6.0" textLength="12.4" lengthAdjust="spacingAndGlyphs" fill="#222" stroke="#222" stroke-width="0.12">2013</text>
<text x="242.51" y="238.5" text-anchor="middle" dominant-baseline="central" font-size="6.0" textLength="12.4" lengthAdjust="spacingAndGlyphs" fill="#222" stroke="#222" stroke-width="0.12">2020</text>
<text x="142.4" y="252.8" text-anchor="middle" dominant-baseline="central" font-size="5.8" fill="#222" stroke="#222" stroke-width="0.12">Year</text>
<text x="254.1" y="181.94" dominant-baseline="central" font-size="5.6" fill="#5a5a5a">UCL</text>
<text x="254.1" y="225.3" dominant-baseline="central" font-size="5.6" fill="#5a5a5a">LCL</text>
<text x="41.1" y="263.4" dominant-baseline="central" font-size="5.1" fill="#111" stroke="#111" stroke-width="0.12">Number of groups = 72</text>
<text x="121.6" y="263.4" dominant-baseline="central" font-size="5.1" fill="#111" stroke="#111" stroke-width="0.12">LCL = 0</text>
<text x="41.1" y="270.45" dominant-baseline="central" font-size="5.1" fill="#111" stroke="#111" stroke-width="0.12">Sample size = 1</text>
<text x="121.6" y="270.45" dominant-baseline="central" font-size="5.1" fill="#111" stroke="#111" stroke-width="0.12">UCL = 34.69093</text>
<text x="41.1" y="277.5" dominant-baseline="central" font-size="5.1" fill="#111" stroke="#111" stroke-width="0.12">|S| = 3.958711e-06</text>
<text x="121.6" y="277.5" dominant-baseline="central" font-size="5.1" fill="#111" stroke="#111" stroke-width="0.12">Num. beyond limits = 3</text>
<text x="38.2" y="297.3" textLength="13.9" lengthAdjust="spacingAndGlyphs" font-family='"Liberation Serif", serif' font-size="13.5" fill="#111" stroke="#111" stroke-width="0.06">(<tspan font-weight="bold">c</tspan>)</text>
<text x="54.7" y="297.3" textLength="179.7" lengthAdjust="spacingAndGlyphs" font-family='"Liberation Serif", serif' font-size="13.5" fill="#111" stroke="#111" stroke-width="0.06">Female population for RH model</text>
<line x1="311.2" y1="162.39" x2="533.3" y2="162.39" stroke="#606060" stroke-width="1.0" stroke-dasharray="1.5 1.4"/>
<line x1="311.2" y1="225.6" x2="533.3" y2="225.6" stroke="#606060" stroke-width="1.0" stroke-dasharray="1.5 1.4"/>
<path d="M320.07 191.41L322.42 165.49M323.15 165.46L325.13 178.24M326.47 184.07L327.6 187.73M329.62 187.83L330.23 186.37M332 186.53L333.64 194.27M341.29 192.17L341.71 191.23M343.36 185.53L345.42 170.67M346.3 170.66L348.26 183.14M352.69 185.4L353.45 187.4M355.45 187.35L356.47 184.25M357.94 178.45L359.77 168.35M360.72 168.37L362.78 183.13M363.77 189.04L365.51 197.86M369.8 198.61L371.06 194.19M372.86 194.13L373.78 196.77M381.38 195.02L382.62 190.68M384.2 190.7L385.58 196M395.38 195.42L397.55 177.28M398.85 177.15L399.87 180.25M404.68 188.23L405.6 190.87M407.01 190.73L409.06 176.17M410.63 175.97L411.23 177.43M413.04 183.13L414.61 190.07M415.65 190.02L417.79 173.08M418.45 173.09L420.76 196.61M424.31 197.12L426.48 178.98M427.97 178.78L428.6 180.32M430.73 185.93L431.63 188.47M433.83 188.55L434.32 187.45M436.51 187.53L437.43 190.17M442.22 190.84L443.28 187.56M444.99 181.81L446.3 176.99M447.51 177.07L449.57 191.93M451.31 192.21L451.56 191.69M453.67 186.11L454.98 181.29M459.58 184.06L460.64 187.34M467.92 189.54L469.66 198.36M470.62 198.33L472.74 182.07M473.84 182.01L475.31 187.99M479.7 191.19L481.02 196.01M482.16 195.92L484.35 177.08M485.04 177.08L487.26 196.62M489.01 202.24L489.07 202.36M493.89 204.14L495.77 193.16M499.66 187.96L501.57 199.44M502.69 199.47L504.32 191.93M505.49 191.95L507.31 202.05M508.36 202.04L510.23 191.26M511.75 185.47L512.62 183.03M520.46 175.09L521.27 172.91" stroke="#9c9c9c" stroke-width="0.95" fill="none"/>
<circle cx="319.8" cy="194.4" r="1.1" fill="#111"/>
<circle cx="322.69" cy="162.5" r="1.5" fill="#ff1a1a"/>
<circle cx="325.59" cy="181.2" r="1.1" fill="#111"/>
<circle cx="328.48" cy="190.6" r="1.1" fill="#111"/>
<circle cx="331.37" cy="183.6" r="1.1" fill="#111"/>
<circle cx="334.26" cy="197.2" r="1.1" fill="#111"/>
<circle cx="337.16" cy="194.2" r="1.1" fill="#111"/>
<circle cx="340.05" cy="194.9" r="1.1" fill="#111"/>
<circle cx="342.94" cy="188.5" r="1.1" fill="#111"/>
<circle cx="345.84" cy="167.7" r="1.1" fill="#111"/>
<circle cx="348.73" cy="186.1" r="1.1" fill="#111"/>
<circle cx="351.62" cy="182.6" r="1.1" fill="#111"/>
<circle cx="354.52" cy="190.2" r="1.1" fill="#111"/>
<circle cx="357.41" cy="181.4" r="1.1" fill="#111"/>
<circle cx="360.3" cy="165.4" r="1.1" fill="#111"/>
<circle cx="363.19" cy="186.1" r="1.1" fill="#111"/>
<circle cx="366.09" cy="200.8" r="1.1" fill="#111"/>
<circle cx="368.98" cy="201.5" r="1.1" fill="#111"/>
<circle cx="371.87" cy="191.3" r="1.1" fill="#111"/>
<circle cx="374.77" cy="199.6" r="1.1" fill="#111"/>
<circle cx="377.66" cy="196.5" r="1.1" fill="#111"/>
<circle cx="380.55" cy="197.9" r="1.1" fill="#111"/>
<circle cx="383.45" cy="187.8" r="1.1" fill="#111"/>
<circle cx="386.34" cy="198.9" r="1.1" fill="#111"/>
<circle cx="389.23" cy="195.3" r="1.1" fill="#111"/>
<circle cx="392.12" cy="199.1" r="1.1" fill="#111"/>
<circle cx="395.02" cy="198.4" r="1.1" fill="#111"/>
<circle cx="397.91" cy="174.3" r="1.1" fill="#111"/>
<circle cx="400.8" cy="183.1" r="1.1" fill="#111"/>
<circle cx="403.7" cy="185.4" r="1.1" fill="#111"/>
<circle cx="406.59" cy="193.7" r="1.1" fill="#111"/>
<circle cx="409.48" cy="173.2" r="1.1" fill="#111"/>
<circle cx="412.38" cy="180.2" r="1.1" fill="#111"/>
<circle cx="415.27" cy="193" r="1.1" fill="#111"/>
<circle cx="418.16" cy="170.1" r="1.1" fill="#111"/>
<circle cx="421.06" cy="199.6" r="1.1" fill="#111"/>
<circle cx="423.95" cy="200.1" r="1.1" fill="#111"/>
<circle cx="426.84" cy="176" r="1.1" fill="#111"/>
<circle cx="429.73" cy="183.1" r="1.1" fill="#111"/>
<circle cx="432.63" cy="191.3" r="1.1" fill="#111"/>
<circle cx="435.52" cy="184.7" r="1.1" fill="#111"/>
<circle cx="438.41" cy="193" r="1.1" fill="#111"/>
<circle cx="441.31" cy="193.7" r="1.1" fill="#111"/>
<circle cx="444.2" cy="184.7" r="1.1" fill="#111"/>
<circle cx="447.09" cy="174.1" r="1.1" fill="#111"/>
<circle cx="449.99" cy="194.9" r="1.1" fill="#111"/>
<circle cx="452.88" cy="189" r="1.1" fill="#111"/>
<circle cx="455.77" cy="178.4" r="1.1" fill="#111"/>
<circle cx="458.66" cy="181.2" r="1.1" fill="#111"/>
<circle cx="461.56" cy="190.2" r="1.1" fill="#111"/>
<circle cx="464.45" cy="185.9" r="1.1" fill="#111"/>
<circle cx="467.34" cy="186.6" r="1.1" fill="#111"/>
<circle cx="470.24" cy="201.3" r="1.1" fill="#111"/>
<circle cx="473.13" cy="179.1" r="1.1" fill="#111"/>
<circle cx="476.02" cy="190.9" r="1.1" fill="#111"/>
<circle cx="478.91" cy="188.3" r="1.1" fill="#111"/>
<circle cx="481.81" cy="198.9" r="1.1" fill="#111"/>
<circle cx="484.7" cy="174.1" r="1.1" fill="#111"/>
<circle cx="487.59" cy="199.6" r="1.1" fill="#111"/>
<circle cx="490.49" cy="205" r="1.1" fill="#111"/>
<circle cx="493.38" cy="207.1" r="1.1" fill="#111"/>
<circle cx="496.27" cy="190.2" r="1.1" fill="#111"/>
<circle cx="499.17" cy="185" r="1.1" fill="#111"/>
<circle cx="502.06" cy="202.4" r="1.1" fill="#111"/>
<circle cx="504.95" cy="189" r="1.1" fill="#111"/>
<circle cx="507.85" cy="205" r="1.1" fill="#111"/>
<circle cx="510.74" cy="188.3" r="1.1" fill="#111"/>
<circle cx="513.63" cy="180.2" r="1.1" fill="#111"/>
<circle cx="516.52" cy="178.4" r="1.1" fill="#111"/>
<circle cx="519.42" cy="177.9" r="1.1" fill="#111"/>
<circle cx="522.31" cy="170.1" r="1.1" fill="#111"/>
<circle cx="525.2" cy="172" r="1.1" fill="#111"/>
<rect x="311.2" y="159.5" width="222.1" height="69.2" fill="none" stroke="#7c7c7c" stroke-width="1"/>
<line x1="308" y1="225.6" x2="311.2" y2="225.6" stroke="#7c7c7c" stroke-width="0.9"/>
<line x1="308" y1="216.49" x2="311.2" y2="216.49" stroke="#7c7c7c" stroke-width="0.9"/>
<line x1="308" y1="207.38" x2="311.2" y2="207.38" stroke="#7c7c7c" stroke-width="0.9"/>
<line x1="308" y1="198.27" x2="311.2" y2="198.27" stroke="#7c7c7c" stroke-width="0.9"/>
<line x1="308" y1="189.16" x2="311.2" y2="189.16" stroke="#7c7c7c" stroke-width="0.9"/>
<line x1="308" y1="180.05" x2="311.2" y2="180.05" stroke="#7c7c7c" stroke-width="0.9"/>
<line x1="308" y1="170.94" x2="311.2" y2="170.94" stroke="#7c7c7c" stroke-width="0.9"/>
<line x1="308" y1="161.83" x2="311.2" y2="161.83" stroke="#7c7c7c" stroke-width="0.9"/>
<text x="301.4" y="225.6" transform="rotate(-90 301.4 225.6)" text-anchor="middle" dominant-baseline="central" font-size="5.6" fill="#222" stroke="#222" stroke-width="0.1">0</text>
<text x="301.4" y="216.49" transform="rotate(-90 301.4 216.49)" text-anchor="middle" dominant-baseline="central" font-size="5.6" fill="#222" stroke="#222" stroke-width="0.1">5</text>
<text x="301.4" y="198.27" transform="rotate(-90 301.4 198.27)" text-anchor="middle" dominant-baseline="central" font-size="5.6" fill="#222" stroke="#222" stroke-width="0.1">15</text>
<text x="301.4" y="180.05" transform="rotate(-90 301.4 180.05)" text-anchor="middle" dominant-baseline="central" font-size="5.6" fill="#222" stroke="#222" stroke-width="0.1">25</text>
<text x="301.4" y="161.83" transform="rotate(-90 301.4 161.83)" text-anchor="middle" dominant-baseline="central" font-size="5.6" fill="#222" stroke="#222" stroke-width="0.1">35</text>
<text x="288.2" y="194.1" transform="rotate(-90 288.2 194.1)" text-anchor="middle" dominant-baseline="central" font-size="5.65" fill="#222" stroke="#222" stroke-width="0.1">Group summary statistics</text>
<path d="M319.8 228.7V231.9M322.69 228.7V231.9M325.59 228.7V231.9M328.48 228.7V231.9M331.37 228.7V231.9M334.26 228.7V231.9M337.16 228.7V231.9M340.05 228.7V231.9M342.94 228.7V231.9M345.84 228.7V231.9M348.73 228.7V231.9M351.62 228.7V231.9M354.52 228.7V231.9M357.41 228.7V231.9M360.3 228.7V231.9M363.19 228.7V231.9M366.09 228.7V231.9M368.98 228.7V231.9M371.87 228.7V231.9M374.77 228.7V231.9M377.66 228.7V231.9M380.55 228.7V231.9M383.45 228.7V231.9M386.34 228.7V231.9M389.23 228.7V231.9M392.12 228.7V231.9M395.02 228.7V231.9M397.91 228.7V231.9M400.8 228.7V231.9M403.7 228.7V231.9M406.59 228.7V231.9M409.48 228.7V231.9M412.38 228.7V231.9M415.27 228.7V231.9M418.16 228.7V231.9M421.06 228.7V231.9M423.95 228.7V231.9M426.84 228.7V231.9M429.73 228.7V231.9M432.63 228.7V231.9M435.52 228.7V231.9M438.41 228.7V231.9M441.31 228.7V231.9M444.2 228.7V231.9M447.09 228.7V231.9M449.99 228.7V231.9M452.88 228.7V231.9M455.77 228.7V231.9M458.66 228.7V231.9M461.56 228.7V231.9M464.45 228.7V231.9M467.34 228.7V231.9M470.24 228.7V231.9M473.13 228.7V231.9M476.02 228.7V231.9M478.91 228.7V231.9M481.81 228.7V231.9M484.7 228.7V231.9M487.59 228.7V231.9M490.49 228.7V231.9M493.38 228.7V231.9M496.27 228.7V231.9M499.17 228.7V231.9M502.06 228.7V231.9M504.95 228.7V231.9M507.85 228.7V231.9M510.74 228.7V231.9M513.63 228.7V231.9M516.52 228.7V231.9M519.42 228.7V231.9M522.31 228.7V231.9M525.2 228.7V231.9" stroke="#333" stroke-width="0.85"/>
<text x="319.8" y="238.5" text-anchor="middle" dominant-baseline="central" font-size="6.0" textLength="12.4" lengthAdjust="spacingAndGlyphs" fill="#222" stroke="#222" stroke-width="0.12">1950</text>
<text x="340.05" y="238.5" text-anchor="middle" dominant-baseline="central" font-size="6.0" textLength="12.4" lengthAdjust="spacingAndGlyphs" fill="#222" stroke="#222" stroke-width="0.12">1957</text>
<text x="360.3" y="238.5" text-anchor="middle" dominant-baseline="central" font-size="6.0" textLength="12.4" lengthAdjust="spacingAndGlyphs" fill="#222" stroke="#222" stroke-width="0.12">1964</text>
<text x="380.55" y="238.5" text-anchor="middle" dominant-baseline="central" font-size="6.0" textLength="12.4" lengthAdjust="spacingAndGlyphs" fill="#222" stroke="#222" stroke-width="0.12">1971</text>
<text x="400.8" y="238.5" text-anchor="middle" dominant-baseline="central" font-size="6.0" textLength="12.4" lengthAdjust="spacingAndGlyphs" fill="#222" stroke="#222" stroke-width="0.12">1978</text>
<text x="421.06" y="238.5" text-anchor="middle" dominant-baseline="central" font-size="6.0" textLength="12.4" lengthAdjust="spacingAndGlyphs" fill="#222" stroke="#222" stroke-width="0.12">1985</text>
<text x="441.31" y="238.5" text-anchor="middle" dominant-baseline="central" font-size="6.0" textLength="12.4" lengthAdjust="spacingAndGlyphs" fill="#222" stroke="#222" stroke-width="0.12">1992</text>
<text x="461.56" y="238.5" text-anchor="middle" dominant-baseline="central" font-size="6.0" textLength="12.4" lengthAdjust="spacingAndGlyphs" fill="#222" stroke="#222" stroke-width="0.12">1999</text>
<text x="481.81" y="238.5" text-anchor="middle" dominant-baseline="central" font-size="6.0" textLength="12.4" lengthAdjust="spacingAndGlyphs" fill="#222" stroke="#222" stroke-width="0.12">2006</text>
<text x="502.06" y="238.5" text-anchor="middle" dominant-baseline="central" font-size="6.0" textLength="12.4" lengthAdjust="spacingAndGlyphs" fill="#222" stroke="#222" stroke-width="0.12">2013</text>
<text x="522.31" y="238.5" text-anchor="middle" dominant-baseline="central" font-size="6.0" textLength="12.4" lengthAdjust="spacingAndGlyphs" fill="#222" stroke="#222" stroke-width="0.12">2020</text>
<text x="422.2" y="252.8" text-anchor="middle" dominant-baseline="central" font-size="5.8" fill="#222" stroke="#222" stroke-width="0.12">Year</text>
<text x="533.9" y="162.39" dominant-baseline="central" font-size="5.6" fill="#5a5a5a">UCL</text>
<text x="533.9" y="225.6" dominant-baseline="central" font-size="5.6" fill="#5a5a5a">LCL</text>
<text x="320.9" y="263.4" dominant-baseline="central" font-size="5.1" fill="#111" stroke="#111" stroke-width="0.12">Number of groups = 72</text>
<text x="401.4" y="263.4" dominant-baseline="central" font-size="5.1" fill="#111" stroke="#111" stroke-width="0.12">LCL = 0</text>
<text x="320.9" y="270.45" dominant-baseline="central" font-size="5.1" fill="#111" stroke="#111" stroke-width="0.12">Sample size = 1</text>
<text x="401.4" y="270.45" dominant-baseline="central" font-size="5.1" fill="#111" stroke="#111" stroke-width="0.12">UCL = 34.69093</text>
<text x="320.9" y="277.5" dominant-baseline="central" font-size="5.1" fill="#111" stroke="#111" stroke-width="0.12">|S| = 1.74497e-05</text>
<text x="401.4" y="277.5" dominant-baseline="central" font-size="5.1" fill="#111" stroke="#111" stroke-width="0.12">Num. beyond limits = 1</text>
<text x="322.2" y="297.3" textLength="15.7" lengthAdjust="spacingAndGlyphs" font-family='"Liberation Serif", serif' font-size="13.5" fill="#111" stroke="#111" stroke-width="0.06">(<tspan font-weight="bold">d</tspan>)</text>
<text x="341.2" y="297.3" textLength="167.3" lengthAdjust="spacingAndGlyphs" font-family='"Liberation Serif", serif' font-size="13.5" fill="#111" stroke="#111" stroke-width="0.06">Male population for RH model</text>
</svg>
</body></html>
